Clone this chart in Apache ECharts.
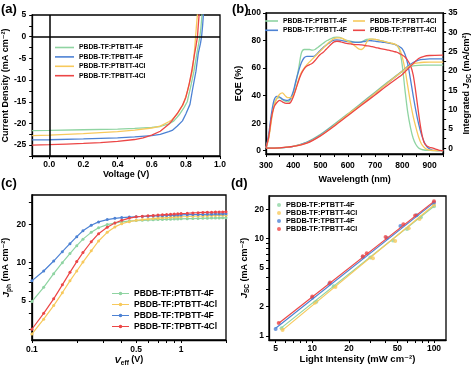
<!DOCTYPE html>
<html><head><meta charset="utf-8">
<script src="https://cdn.jsdelivr.net/npm/echarts@6/dist/echarts.min.js"></script>
<style>html,body{margin:0;padding:0;background:#fff}#c{width:474px;height:369px}</style>
</head><body><div id="c"></div>
<script>
// ---------- labels ----------
const nameP4F = 'PBDB-TF:PTBTT-4F';
const nameT4F = 'PBDB-TF:TPBTT-4F';
const nameP4Cl = 'PBDB-TF:PTBTT-4Cl';
const nameT4Cl = 'PBDB-TF:TPBTT-4Cl';
const cGreen = '#8fd4a2', cBlue = '#4d82d4', cYellow = '#f7c95c', cRed = '#ec4646';

// ---------- (a) J-V ----------
const jvGreen = [[-0.1,-21.65],[0,-21.6],[0.2,-21.45],[0.4,-21.3],[0.5,-21.15],[0.6,-20.9],[0.65,-20.7],[0.7,-20.1],[0.73,-19.4],[0.761,-18.0],[0.79,-16.3],[0.808,-15.0],[0.83,-11.2],[0.847,-8.0],[0.865,-3.8],[0.875,-1.6],[0.882,0],[0.888,2],[0.895,5.2]];
const jvBlue = [[-0.1,-23.8],[0,-23.75],[0.2,-23.55],[0.4,-23.3],[0.5,-23.1],[0.6,-22.8],[0.65,-22.5],[0.7,-21.9],[0.72,-21.6],[0.75,-20.6],[0.78,-19.4],[0.8,-17.8],[0.824,-15.6],[0.84,-12.0],[0.859,-8.0],[0.873,-3.8],[0.886,-1.5],[0.892,0],[0.898,2.5],[0.903,5.2]];
const jvYellow = [[-0.1,-22.8],[0,-22.7],[0.2,-22.35],[0.4,-21.9],[0.5,-21.55],[0.6,-21.05],[0.65,-20.6],[0.7,-19.6],[0.717,-19.2],[0.75,-17.8],[0.785,-15.6],[0.81,-12.5],[0.83,-9.2],[0.84,-7.5],[0.85,-3.5],[0.857,0],[0.862,2.5],[0.868,5.2]];
const jvRed = [[-0.1,-25.0],[0,-24.9],[0.1,-24.75],[0.2,-24.6],[0.3,-24.4],[0.4,-24.15],[0.5,-23.7],[0.55,-23.3],[0.6,-22.7],[0.65,-21.8],[0.7,-20.2],[0.72,-19.3],[0.75,-17.7],[0.78,-15.8],[0.8,-14.0],[0.82,-10.8],[0.834,-8.0],[0.85,-4.2],[0.86,-2.0],[0.868,0],[0.872,2.2],[0.878,5.2]];
const jvXLabels = [0, 0.2, 0.4, 0.6, 0.8, 1.0];
const jvYLabels = [-25, -20, -15, -10, -5, 0, 5];

// ---------- (b) EQE ----------
const wl = [300,310,320,330,340,350,360,370,380,390,400,410,420,430,440,450,460,470,480,490,500,510,520,530,540,550,560,570,580,590,600,610,620,630,640,650,660,670,680,690,700,710,720,730,740,750,760,770,780,790,800,810,820,830,840,850,860,870,880,890,900,910,920,930,940,950];
const eqeGreen = [2,10,24,34,38,38.5,37,36,35.5,37,42,50,60,71,73.5,73.5,73.5,73,73.5,75,76.5,78,79.5,80.5,81.5,82.3,82.5,82.3,81.5,80.5,80,79.5,79,78.8,78.8,79,80,80.8,81,81,80.8,80.5,80,79.5,79,78.5,78,77.5,76.5,73,62,44,28,17,9,4.5,2,1,0.5,0.3,0.2,0.1,0.1,0,0,0];
const eqeBlue = [2,12,27,37,39.5,39,37.5,36.8,36.5,38,43,51,58,64,67.5,68.5,68.5,68.5,69,71,73,75,76.5,78,79.5,80.3,80.5,80.3,80,79.5,79.2,79,78.8,78.7,78.7,78.8,79.3,79.8,80,79.8,79.5,79.2,79,78.7,78.5,78.2,77.8,77.3,76.5,75.5,74,70,63,52,40,29,19.5,12,6.5,3,1.3,0.5,0.2,0.1,0,0];
const eqeYellow = [2,9,22,33,38,41,42,40,38.5,38.5,40,45,52,57,60,62.5,64.5,66.5,68.5,70.5,72.5,74.5,76.5,78.5,80,81.5,82,82,81.5,80.5,79.5,78.5,77,75.5,74,73.5,75,79,81,81,80.8,80.5,80,79.5,79,78.5,78,77.5,76.5,74,68,59,47,35,25,17,10,5,2.5,1,0.5,0.2,0.1,0,0,0];
const eqeRed = [2,10,24,32,35,36.5,35.5,34.5,34.3,35,39,45,51,56,59.5,61.5,62.5,63.5,65.5,68,70,71.5,73.5,75.5,77.5,79,79.5,79.3,78.7,78.2,77.8,77.5,77.2,77,77,76.8,76.5,76.2,76,75.5,75,74.6,74.2,73.8,73.4,73,72.5,72,71.5,70.5,69.5,68,65.5,62,55,42,27,14,6,3.5,2.5,2,1.3,0.7,0.2,0];
const wlInt = [300,350,400,450,500,550,600,650,700,750,800,820,840,860,880,900,950];
const intGreen = [0,0.1,0.5,1.6,3.6,6.2,8.9,11.7,14.5,17.3,20.0,20.9,21.3,21.45,21.5,21.5,21.5];
const intYellow = [0,0.1,0.5,1.4,3.3,5.9,8.7,11.4,14.2,17.1,19.9,21.0,21.8,22.1,22.25,22.3,22.3];
const intBlue = [0,0.1,0.5,1.5,3.4,6.0,8.7,11.5,14.3,17.1,19.9,21.2,22.2,22.8,23.0,23.1,23.1];
const intRed = [0,0.1,0.45,1.3,3.2,5.7,8.4,11.1,13.8,16.5,19.1,20.5,21.9,23.2,23.8,24.0,24.1];
const wlLabels = [300,400,500,600,700,800,900];
const eqeLabels = [0,20,40,60,80,100];
const intLabels = [0,5,10,15,20,25,30,35];

// ---------- (c) Jph vs Veff ----------
const veff = [0.1,0.12,0.14,0.16,0.18,0.2,0.22,0.25,0.28,0.32,0.36,0.4,0.45,0.5,0.55,0.6,0.65,0.7,0.75,0.8,0.85,0.9,0.95,1.0,1.1,1.2,1.3,1.4,1.5,1.6,1.7,1.8,1.9,2.0];
const jphGreen = [4.95,6.4,8.2,10.0,11.8,13.6,15.3,17.3,18.8,19.9,20.5,20.9,21.2,21.4,21.5,21.6,21.7,21.8,21.85,21.9,21.95,22.0,22.05,22.1,22.15,22.2,22.25,22.3,22.35,22.4,22.4,22.45,22.5,22.5];
const jphYellow = [2.75,3.6,4.6,5.8,7.2,8.6,10.1,12.4,14.8,17.3,19.1,20.2,21.0,21.5,21.8,22.0,22.2,22.35,22.5,22.6,22.7,22.8,22.9,22.95,23.05,23.15,23.25,23.3,23.4,23.45,23.5,23.55,23.6,23.6];
const jphBlue = [7.2,8.6,10.3,12.2,14.1,16.0,17.8,19.7,20.9,21.8,22.3,22.6,22.8,22.95,23.05,23.15,23.25,23.35,23.4,23.5,23.55,23.6,23.65,23.7,23.8,23.85,23.9,23.95,24.0,24.05,24.1,24.1,24.15,24.2];
const jphRed = [3.0,4.0,5.2,6.7,8.4,10.2,12.0,14.6,16.9,19.0,20.5,21.5,22.4,22.9,23.15,23.35,23.5,23.65,23.8,23.9,24.0,24.1,24.2,24.3,24.45,24.6,24.7,24.8,24.85,24.9,24.95,25.0,25.05,25.1];
const veffLabels = [0.1, 0.5, 1];
const jphLabels = [5, 10, 20];

// ---------- (d) Jsc vs light intensity ----------
const pGreen = [5.6,10.8,15,30,46,60,78,100];
const jscGreen = [1.2,2.25,3.25,6.4,9.6,12.6,16.6,21.6];
const pYellow = [5.7,10.5,15.5,31.5,48,62,76,100];
const jscYellow = [1.15,2.2,3.2,6.3,9.5,12.8,16.0,22.4];
const pBlue = [5,10,13.8,26,41,53,72,100];
const jscBlue = [1.18,2.48,3.45,6.5,10.2,13.5,17.4,23.6];
const pRed = [5.3,10,14,26,28,40,56,70,100];
const jscRed = [1.36,2.55,3.55,6.6,7.1,10.4,14.1,17.3,24.3];
const fitGreen = [[5.6,1.22],[100,21.6]];
const fitYellow = [[5.7,1.15],[100,22.2]];
const fitBlue = [[5,1.2],[100,23.5]];
const fitRed = [[5.3,1.35],[100,24.2]];
const lightLabels = [5,10,20,50,100];
const jscLabels = [1,2,5,10,20];

// ---------- helpers ----------
const F = "'Liberation Sans', Arial, 'DejaVu Sans', sans-serif";
const zip = (xs, ys) => xs.map((x, i) => [x, ys[i]]);
const range = (a, b, s) => { const r = []; for (let v = a; v <= b + 1e-9; v += s) r.push(+v.toFixed(4)); return r; };
const rich = {
  n: {fontSize: 9, fontWeight: 'bold', fontFamily: F, color: '#000', lineHeight: 13},
  i: {fontSize: 9.5, fontWeight: 'bold', fontStyle: 'italic', fontFamily: F, color: '#000', lineHeight: 13},
  s: {fontSize: 6.5, fontWeight: 'bold', fontFamily: F, color: '#000', lineHeight: 13, verticalAlign: 'bottom', padding: [4, 0, 0, 0]}
};
function mkAxis(o) {
  const ax = {
    type: o.type || 'value', gridIndex: o.grid, min: o.min, max: o.max,
    axisLine: {show: true, onZero: false, lineStyle: {color: '#000', width: 1.3}},
    axisTick: {show: true, inside: false, length: 3, customValues: o.ticks, lineStyle: {color: '#000', width: 1}},
    axisLabel: {show: true, customValues: o.labels, formatter: o.fmt, margin: o.margin, color: '#000',
      fontSize: o.fs || 8.5, fontWeight: 'bold', fontFamily: F, hideOverlap: false},
    splitLine: {show: false},
    name: o.name, nameLocation: 'middle', nameGap: o.nameGap,
    nameTextStyle: {color: '#000', fontSize: o.nfs || 9, fontWeight: 'bold', fontFamily: F, rich: rich}
  };
  if (o.type === 'log') ax.logBase = 10;
  if (o.position) ax.position = o.position;
  if (o.nameRotate != null) ax.nameRotate = o.nameRotate;
  return ax;
}
const labelMap = {
  a0: nameP4F, a1: nameT4F, a2: nameP4Cl, a3: nameT4Cl,
  b0: nameP4F, b1: nameT4F, b2: nameP4Cl, b3: nameT4Cl,
  c0: nameP4F, c1: nameP4Cl, c2: nameT4F, c3: nameT4Cl,
  d0: nameP4F, d1: nameP4Cl, d2: nameT4F, d3: nameT4Cl
};
function mkLegend(o) {
  return {
    left: o.left, top: o.top, orient: 'vertical', padding: 0,
    itemWidth: o.iw, itemHeight: o.ih, itemGap: o.gap, data: o.data, icon: o.icon,
    symbolKeepAspect: true, itemStyle: {borderWidth: 0},
    formatter: n => labelMap[n], selectedMode: false,
    textStyle: {fontSize: o.fs, fontWeight: 'bold', fontFamily: F, color: '#000'}
  };
}
function lineS(name, data, color, xi, yi, extra) {
  return Object.assign({
    name: name, type: 'line', data: data, xAxisIndex: xi, yAxisIndex: yi,
    symbol: 'none', lineStyle: {color: color, width: 1.3}, itemStyle: {color: color},
    silent: true, animation: false
  }, extra || {});
}
const dec = v => String(v);
const lineIcon = w => 'path://M0,0H' + w + 'V1.6H0Z';
const markIcon = 'path://M0,3.4H17V4.6H0Z M10.3,4 A1.8,1.8 0 1 1 6.7,4 A1.8,1.8 0 1 1 10.3,4Z';

const option = {
  animation: false,
  backgroundColor: '#fff',
  title: [
    {text: '(a)', left: 1, top: 3, padding: 0, textStyle: {fontSize: 13, fontWeight: 'bold', fontFamily: F, color: '#000'}},
    {text: '(b)', left: 232, top: 3, padding: 0, textStyle: {fontSize: 13, fontWeight: 'bold', fontFamily: F, color: '#000'}},
    {text: '(c)', left: 1, top: 177, padding: 0, textStyle: {fontSize: 13, fontWeight: 'bold', fontFamily: F, color: '#000'}},
    {text: '(d)', left: 231, top: 177, padding: 0, textStyle: {fontSize: 13, fontWeight: 'bold', fontFamily: F, color: '#000'}}
  ],
  grid: [
    {left: 32, top: 15, width: 188, height: 141, show: true, borderColor: '#000', borderWidth: 1.3, backgroundColor: 'transparent'},
    {left: 266, top: 13, width: 180, height: 141, show: true, borderColor: '#000', borderWidth: 1.3, backgroundColor: 'transparent'},
    {left: 30, top: 195, width: 196, height: 145, show: true, borderColor: '#000', borderWidth: 1.3, backgroundColor: 'transparent'},
    {left: 269, top: 196, width: 177, height: 144, show: true, borderColor: '#000', borderWidth: 1.3, backgroundColor: 'transparent'}
  ],
  xAxis: [
    mkAxis({grid: 0, min: -0.1, max: 1.0, labels: jvXLabels, ticks: range(-0.1, 1.0, 0.1), fmt: v => (+v).toFixed(1), margin: 4,
      name: 'Voltage (V)', nameGap: 13}),
    mkAxis({grid: 1, min: 300, max: 950, labels: wlLabels, ticks: range(300, 950, 50), fmt: dec, margin: 7,
      name: 'Wavelength (nm)', nameGap: 21}),
    mkAxis({grid: 2, type: 'log', min: 0.1, max: 2, labels: veffLabels, ticks: [0.1,0.2,0.3,0.4,0.5,0.6,0.7,0.8,0.9,1,2], fmt: dec, margin: 5,
      name: '{i|V}{s|eff}{n| (V)}', nameGap: 12}),
    mkAxis({grid: 3, type: 'log', min: 4.41, max: 125.5, labels: lightLabels, ticks: [5,6,7,8,9,10,20,30,40,50,60,70,80,90,100], fmt: dec, margin: 4,
      name: 'Light Intensity (mW cm⁻²)', nameGap: 12, nfs: 9.5})
  ],
  yAxis: [
    mkAxis({grid: 0, min: -27.5, max: 5, labels: jvYLabels, ticks: range(-27.5, 5, 2.5), fmt: dec, margin: 6,
      name: 'Current Density (mA cm⁻²)', nameGap: 21}),
    mkAxis({grid: 1, min: -2.4, max: 100, labels: eqeLabels, ticks: range(0, 100, 20), fmt: dec, margin: 5,
      name: 'EQE (%)', nameGap: 21}),
    mkAxis({grid: 1, min: -1.5, max: 35, labels: intLabels, ticks: range(0, 35, 2.5), fmt: dec, margin: 5, position: 'right',
      name: '{n|Integrated }{i|J}{s|SC}{n| (mA/cm²)}', nameGap: 14, nameRotate: 90}),
    mkAxis({grid: 2, type: 'log', min: 2.47, max: 34, labels: jphLabels, ticks: [3,4,5,6,7,8,9,10,20,30], fmt: dec, margin: 6,
      name: '{i|J}{s|ph}{n| (mA cm⁻²)}', nameGap: 15}),
    mkAxis({grid: 3, type: 'log', min: 0.91, max: 27.5, labels: jscLabels, ticks: [1,2,3,4,5,6,7,8,9,10,20], fmt: dec, margin: 5,
      name: '{i|J}{s|SC}{n| (mA cm⁻²)}', nameGap: 18})
  ],
  legend: [
    mkLegend({left: 55, top: 44, iw: 19, ih: 8, gap: 2.4, fs: 6.8, icon: lineIcon(19), data: ['a0','a1','a2','a3']}),
    mkLegend({left: 265, top: 17.5, iw: 13, ih: 6, gap: 2.3, fs: 6.8, icon: lineIcon(13), data: ['b0','b1']}),
    mkLegend({left: 353, top: 17.5, iw: 12, ih: 6, gap: 2.3, fs: 6.8, icon: lineIcon(12), data: ['b2','b3']}),
    mkLegend({left: 112, top: 289, iw: 17, ih: 8, gap: 2, fs: 8.5, icon: markIcon, data: ['c0','c1','c2','c3']}),
    mkLegend({left: 277, top: 201.5, iw: 4, ih: 9, gap: 1, fs: 7.3, icon: 'circle', data: ['d0','d1','d2','d3']})
  ],
  series: [
    // (a)
    lineS('a0', jvGreen, cGreen, 0, 0, {
      markLine: {silent: true, symbol: ['none','none'], label: {show: false}, animation: false,
        lineStyle: {color: '#000', width: 1.5, type: 'solid'}, emphasis: {disabled: true},
        data: [{xAxis: 0}, {yAxis: 0}]}
    }),
    lineS('a1', jvBlue, cBlue, 0, 0),
    lineS('a2', jvYellow, cYellow, 0, 0),
    lineS('a3', jvRed, cRed, 0, 0),
    // (b) EQE
    lineS('b0', zip(wl, eqeGreen), cGreen, 1, 1, {smooth: 0.3}),
    lineS('b1', zip(wl, eqeBlue), cBlue, 1, 1, {smooth: 0.3}),
    lineS('b2', zip(wl, eqeYellow), cYellow, 1, 1, {smooth: 0.3}),
    lineS('b3', zip(wl, eqeRed), cRed, 1, 1, {smooth: 0.3}),
    // (b) integrated
    lineS('bi0', zip(wlInt, intGreen), cGreen, 1, 2, {smooth: 0.3}),
    lineS('bi1', zip(wlInt, intBlue), cBlue, 1, 2, {smooth: 0.3}),
    lineS('bi2', zip(wlInt, intYellow), cYellow, 1, 2, {smooth: 0.3}),
    lineS('bi3', zip(wlInt, intRed), cRed, 1, 2, {smooth: 0.3}),
    // (c)
    lineS('c0', zip(veff, jphGreen), cGreen, 2, 3, {symbol: 'circle', symbolSize: 3, showSymbol: true, lineStyle: {color: cGreen, width: 1.2}}),
    lineS('c1', zip(veff, jphYellow), cYellow, 2, 3, {symbol: 'circle', symbolSize: 3, showSymbol: true, lineStyle: {color: cYellow, width: 1.2}}),
    lineS('c2', zip(veff, jphBlue), cBlue, 2, 3, {symbol: 'circle', symbolSize: 3, showSymbol: true, lineStyle: {color: cBlue, width: 1.2}}),
    lineS('c3', zip(veff, jphRed), cRed, 2, 3, {symbol: 'circle', symbolSize: 3, showSymbol: true, lineStyle: {color: cRed, width: 1.2}}),
    // (d) fits
    lineS('df0', fitGreen, cGreen, 3, 4, {lineStyle: {color: cGreen, width: 1.2}}),
    lineS('df1', fitYellow, cYellow, 3, 4, {lineStyle: {color: cYellow, width: 1.2}}),
    lineS('df2', fitBlue, cBlue, 3, 4, {lineStyle: {color: cBlue, width: 1.2}}),
    lineS('df3', fitRed, cRed, 3, 4, {lineStyle: {color: cRed, width: 1.2}}),
    // (d) points
    {name: 'd0', type: 'scatter', xAxisIndex: 3, yAxisIndex: 4, data: zip(pGreen, jscGreen), symbol: 'circle', symbolSize: 4, itemStyle: {color: cGreen}, silent: true},
    {name: 'd1', type: 'scatter', xAxisIndex: 3, yAxisIndex: 4, data: zip(pYellow, jscYellow), symbol: 'circle', symbolSize: 4, itemStyle: {color: cYellow}, silent: true},
    {name: 'd2', type: 'scatter', xAxisIndex: 3, yAxisIndex: 4, data: zip(pBlue, jscBlue), symbol: 'circle', symbolSize: 4, itemStyle: {color: cBlue}, silent: true},
    {name: 'd3', type: 'scatter', xAxisIndex: 3, yAxisIndex: 4, data: zip(pRed, jscRed), symbol: 'circle', symbolSize: 4, itemStyle: {color: cRed}, silent: true}
  ]
};
const chart = echarts.init(document.getElementById('c'), null, {renderer: 'canvas'});
chart.setOption(option);
</script>
</body></html>
